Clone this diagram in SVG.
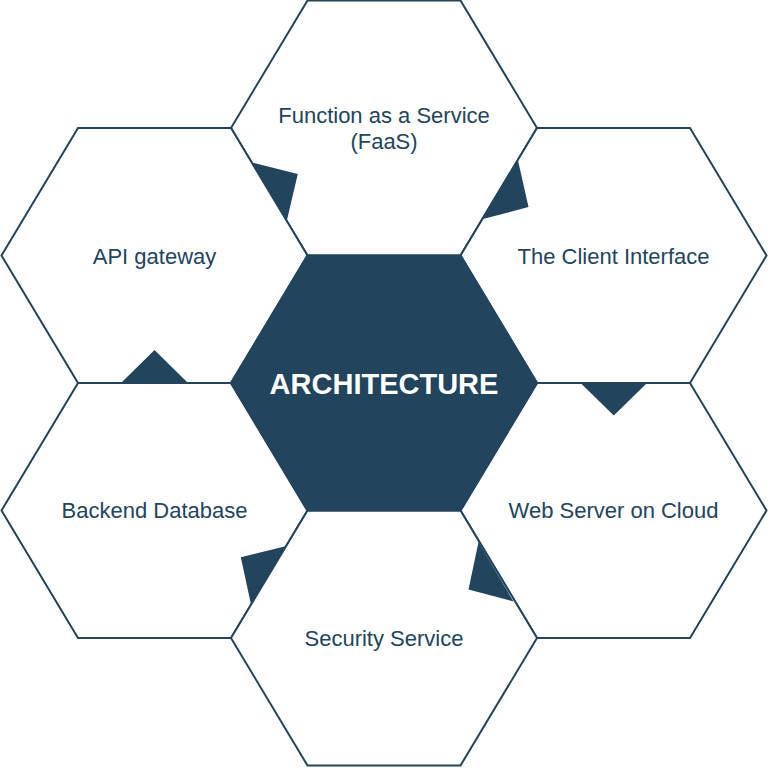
<svg xmlns="http://www.w3.org/2000/svg" width="768" height="768" viewBox="0 0 768 768">
<style>
.hex{fill:#ffffff;stroke:#23445D;stroke-width:2;stroke-linejoin:miter}
.hexc{fill:#23445D;stroke:#23445D;stroke-width:2}
.lbl{font-family:"Liberation Sans",Arial,Helvetica,sans-serif;font-size:22px;fill:#23445D;text-anchor:middle}
.title{font-family:"Liberation Sans",Arial,Helvetica,sans-serif;font-size:29px;font-weight:bold;fill:#ffffff;text-anchor:middle}
.tab{fill:#23445D;stroke:none}
</style>
<defs>
<polygon id="hexshape" points="-153,0 -76.5,-127.5 76.5,-127.5 153,0 76.5,127.5 -76.5,127.5"/>
</defs>
<rect width="768" height="768" fill="#ffffff"/>
<g id="node-faas">
<use href="#hexshape" class="hex" transform="translate(384,128)"/>
<text class="lbl" x="384" y="122.5">Function as a Service</text>
<text class="lbl" x="384" y="148.5">(FaaS)</text>
</g>
<g id="node-api">
<use href="#hexshape" class="hex" transform="translate(154.5,255.5)"/>
<text class="lbl" x="154.5" y="263.5">API gateway</text>
</g>
<g id="node-client">
<use href="#hexshape" class="hex" transform="translate(613.5,255.5)"/>
<text class="lbl" x="613.5" y="263.5">The Client Interface</text>
</g>
<g id="node-backend">
<use href="#hexshape" class="hex" transform="translate(154.5,510.5)"/>
<text class="lbl" x="154.5" y="518">Backend Database</text>
</g>
<g id="node-webserver">
<use href="#hexshape" class="hex" transform="translate(613.5,510.5)"/>
<text class="lbl" x="613.5" y="518">Web Server on Cloud</text>
</g>
<g id="node-security">
<use href="#hexshape" class="hex" transform="translate(384,638)"/>
<text class="lbl" x="384" y="646">Security Service</text>
</g>
<g id="node-architecture">
<use href="#hexshape" class="hexc" transform="translate(384,383)"/>
<text class="title" x="384" y="394">ARCHITECTURE</text>
</g>
<g id="connectors">
<polygon class="tab" points="251.75,162.5 286.75,221 297.8,174"/>
<polygon class="tab" points="518,160.5 483,219 528.5,207"/>
<polygon class="tab" points="580.5,383 647,383 613.8,415.5"/>
<polygon class="tab" points="478.5,542 513.5,601.5 468.5,589.5"/>
<polygon class="tab" points="286.5,546 251,604.5 240.8,557.3"/>
<polygon class="tab" points="121,383 188,383 154.5,350"/>
</g>
</svg>
